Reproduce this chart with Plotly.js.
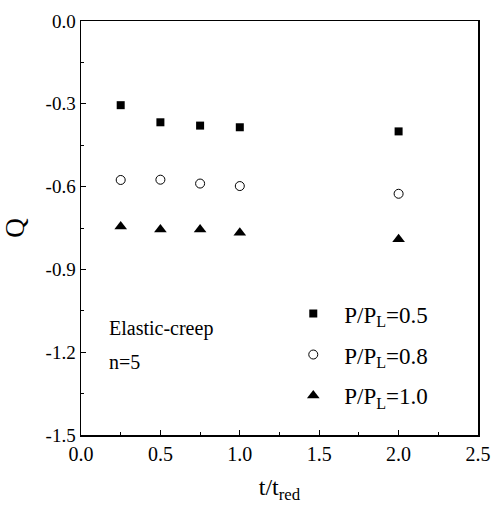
<!DOCTYPE html>
<html>
<head>
<meta charset="utf-8">
<script src="https://cdn.plot.ly/plotly-3.0.1.min.js"></script>
<style>html,body{margin:0;padding:0;background:#fff;}#chart{width:503px;height:514px;}</style>
</head>
<body>
<div id="chart"></div>
<script>
var tRatio = [0.25, 0.5, 0.75, 1.0, 2.0];
var qP05 = [-0.305, -0.367, -0.379, -0.385, -0.400];
var qP08 = [-0.576, -0.575, -0.589, -0.598, -0.626];
var qP10 = [-0.745, -0.755, -0.755, -0.767, -0.791];
var seriesNames = ['P/P<sub>L</sub>=0.5', 'P/P<sub>L</sub>=0.8', 'P/P<sub>L</sub>=1.0'];
var xTickVals = [0, 0.5, 1.0, 1.5, 2.0, 2.5];
var xTickText = ['0.0', '0.5', '1.0', '1.5', '2.0', '2.5'];
var yTickVals = [0, -0.3, -0.6, -0.9, -1.2, -1.5];
var yTickText = ['0.0', '-0.3', '-0.6', '-0.9', '-1.2', '-1.5'];

var font = 'Liberation Serif';
var traces = [
  {x: tRatio, y: qP05, name: seriesNames[0], legendgroup: 'a', mode: 'markers', type: 'scatter',
   marker: {symbol: 'square', size: 8, color: '#000'}},
  {x: tRatio, y: qP08, name: seriesNames[1], legendgroup: 'b', mode: 'markers', type: 'scatter',
   marker: {symbol: 'circle-open', size: 9, color: '#000', line: {width: 1, color: '#000'}}},
  {x: tRatio, y: qP10, name: seriesNames[2], legendgroup: 'c', mode: 'markers', type: 'scatter',
   marker: {symbol: 'triangle-up', size: 11, color: '#000'}}
];
var axisCommon = {
  showgrid: false, zeroline: false, showline: true, mirror: true, linecolor: '#000', linewidth: 1.5,
  ticks: 'inside', ticklen: 5, tickwidth: 1, tickcolor: '#000'
};
var layout = {
  width: 503, height: 514,
  margin: {l: 81, r: 25, t: 21, b: 79},
  paper_bgcolor: '#fff', plot_bgcolor: '#fff',
  font: {family: font, color: '#000'},
  showlegend: true,
  legend: {x: 0.507, y: 0.345, xanchor: 'left', yanchor: 'top', bgcolor: 'rgba(0,0,0,0)',
    itemwidth: 52,
    font: {family: font, size: 23, color: '#000'}, traceorder: 'grouped', tracegroupgap: 8},
  xaxis: Object.assign({}, axisCommon, {
    range: [0, 2.5], tickvals: xTickVals, ticktext: xTickText,
    tickfont: {family: font, size: 20, color: '#000'},
    minor: {dtick: 0.25, tick0: 0, ticks: 'inside', ticklen: 3, tickcolor: '#000', tickwidth: 1},
    title: {text: 't/t<sub>red</sub>', font: {family: font, size: 24, color: '#000'}, standoff: 14}
  }),
  yaxis: Object.assign({}, axisCommon, {
    range: [-1.5, 0], tickvals: yTickVals, ticktext: yTickText,
    tickfont: {family: font, size: 19, color: '#000'},
    minor: {dtick: 0.15, tick0: 0, ticks: 'inside', ticklen: 3, tickcolor: '#000', tickwidth: 1},
    title: {text: 'Q', font: {family: font, size: 27, color: '#000'}, standoff: 14}
  }),
  annotations: [
    {text: 'Elastic-creep', xref: 'paper', yref: 'paper', x: 0.065, y: 0.258, xanchor: 'left', yanchor: 'middle',
     showarrow: false, font: {family: font, size: 20, color: '#000'}},
    {text: 'n=5', xref: 'paper', yref: 'paper', x: 0.065, y: 0.176, xanchor: 'left', yanchor: 'middle',
     showarrow: false, font: {family: font, size: 20, color: '#000'}}
  ]
};
Plotly.newPlot('chart', traces, layout, {displayModeBar: false, staticPlot: true});
</script>
</body>
</html>
